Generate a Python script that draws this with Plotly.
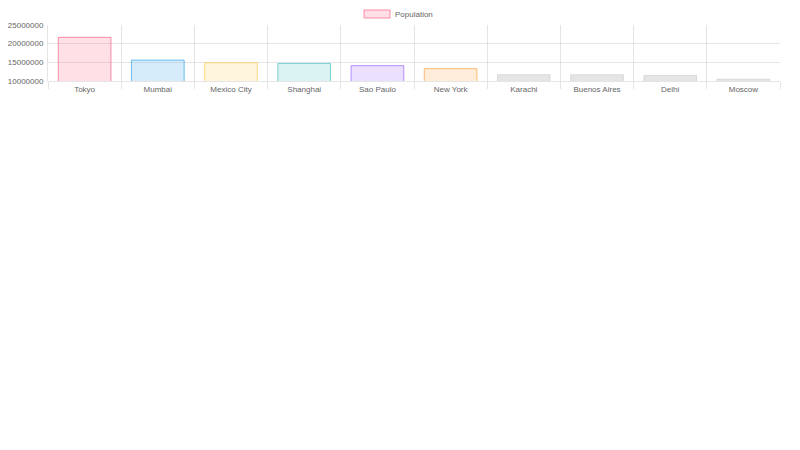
import plotly.graph_objects as go

cities = ["Tokyo", "Mumbai", "Mexico City", "Shanghai", "Sao Paulo",
          "New York", "Karachi", "Buenos Aires", "Delhi", "Moscow"]
population = [21700000, 15600000, 14900000, 14700000, 14100000,
              13300000, 11700000, 11700000, 11500000, 10500000]
fill_colors = ["rgba(255,99,132,0.2)", "rgba(54,162,235,0.2)", "rgba(255,206,86,0.2)",
               "rgba(75,192,192,0.2)", "rgba(153,102,255,0.2)", "rgba(255,159,64,0.2)",
               "rgba(0,0,0,0.1)", "rgba(0,0,0,0.1)", "rgba(0,0,0,0.1)", "rgba(0,0,0,0.1)"]
line_colors = ["rgba(255,99,132,0.7)", "rgba(54,162,235,0.7)", "rgba(255,206,86,0.7)",
               "rgba(75,192,192,0.7)", "rgba(153,102,255,0.7)", "rgba(255,159,64,0.7)",
               "rgba(0,0,0,0.1)", "rgba(0,0,0,0.1)", "rgba(0,0,0,0.1)", "rgba(0,0,0,0.1)"]
y_ticks = [10000000, 15000000, 20000000, 25000000]

font = dict(family="Liberation Sans, Arial, sans-serif", size=8, color="#666")
grid = "rgba(0,0,0,0.1)"

fig = go.Figure()
fig.add_trace(go.Bar(
    x=cities, y=population, name="Population",
    marker=dict(color=fill_colors, line=dict(color=line_colors, width=1)),
    showlegend=False,
))

# legend drawn by hand (wide swatch like the original)
fig.add_shape(type="rect", xref="paper", yref="paper",
              x0=(364 - 48) / 732, x1=(390 - 48) / 732,
              y0=1 + 7 / 56, y1=1 + 15 / 56,
              fillcolor=fill_colors[0], line=dict(color=line_colors[0], width=1))
fig.add_annotation(text="Population", xref="paper", yref="paper",
                   x=(393 - 48) / 732, y=1 + 11 / 56, xanchor="left", yanchor="middle",
                   showarrow=False, font=font)

fig.update_layout(
    width=800, height=450,
    margin=dict(l=48, r=20, t=25, b=369),
    paper_bgcolor="white", plot_bgcolor="white",
    font=font, bargap=0.28, showlegend=False,
)
fig.update_xaxes(
    type="category", tickson="boundaries", showgrid=True, gridcolor=grid, gridwidth=1,
    ticks="outside", ticklen=7, tickcolor=grid, showline=True, linecolor=grid,
    mirror=False, tickfont=font, automargin=False,
)
fig.update_yaxes(
    range=[10000000, 25000000], tickvals=y_ticks, tickformat="d",
    showgrid=True, gridcolor=grid, gridwidth=1, zeroline=False,
    showline=True, linecolor=grid, ticks="", ticklen=0, tickfont=font,
    ticklabelstandoff=2, automargin=False,
)

# drop the browser's default body margin so the figure sits at the page corner
fig.write_html("out.html", config={"displayModeBar": False},
               post_script="document.body.style.margin='0';")
